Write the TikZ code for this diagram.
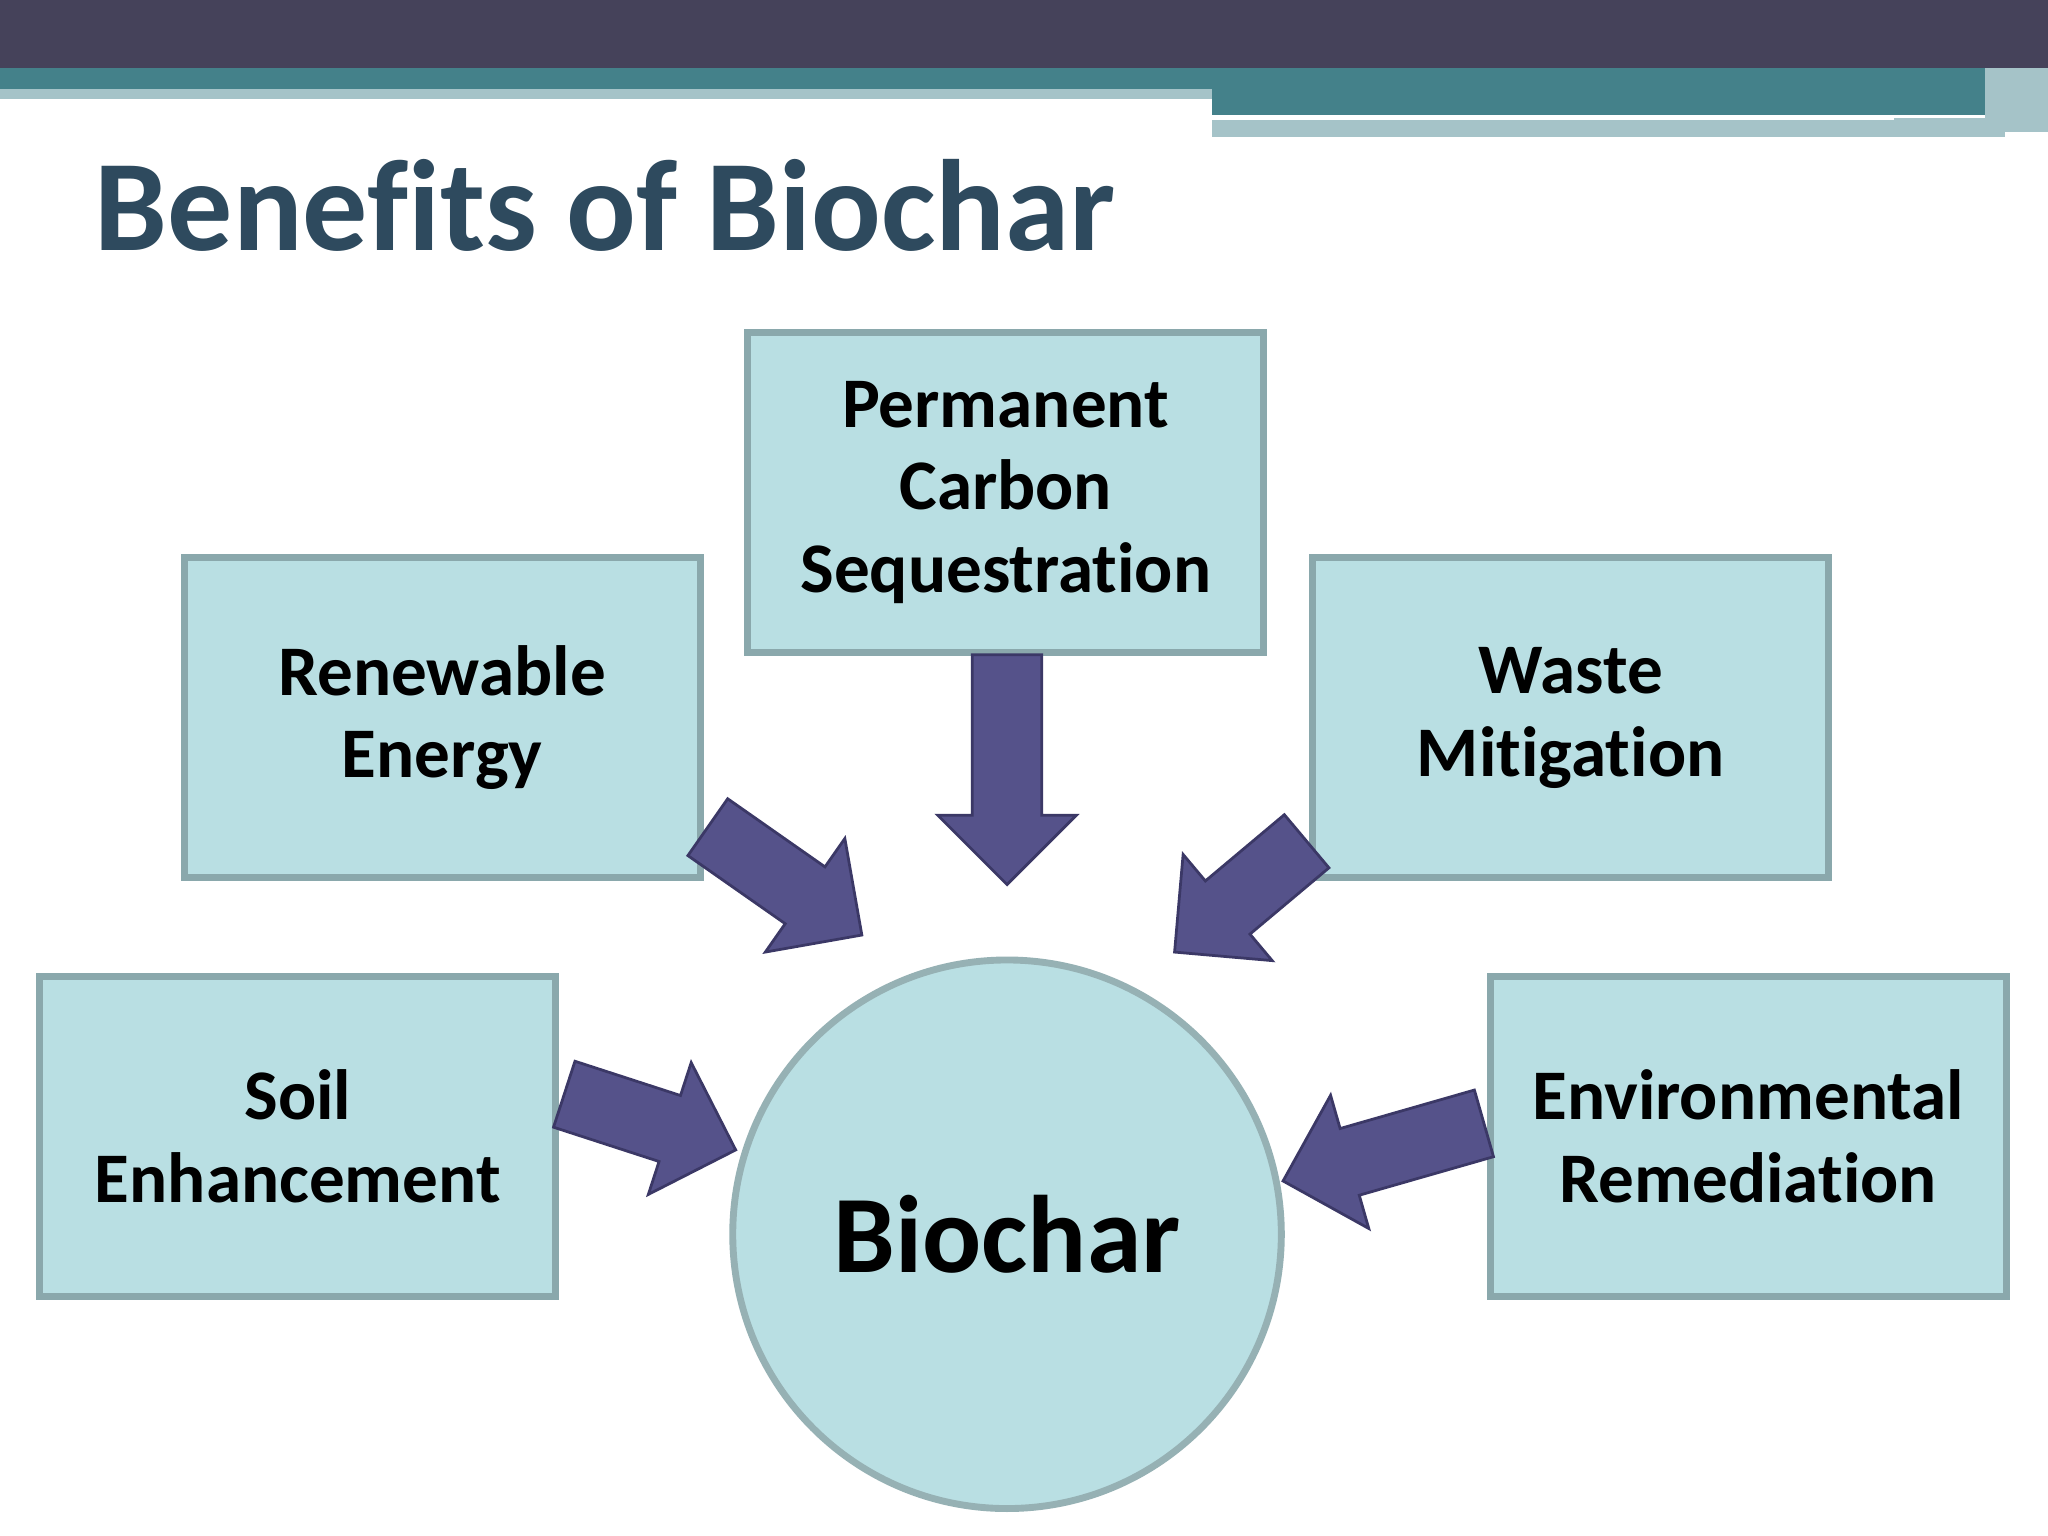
\documentclass[tikz,border=0pt]{standalone}
\usepackage{fontspec}
\setmainfont{Carlito}[Ligatures=NoCommon]
\usetikzlibrary{shapes.arrows}
\definecolor{barDark}{HTML}{45425A}
\definecolor{barTeal}{HTML}{44818A}
\definecolor{barLight}{HTML}{A5C3C8}
\definecolor{titleC}{HTML}{2E4A5E}
\definecolor{boxFill}{HTML}{B9DFE3}
\definecolor{boxLine}{HTML}{8AA8AC}
\definecolor{arrFill}{HTML}{55528A}
\definecolor{arrLine}{HTML}{3B3866}
\tikzset{
  benbox/.style={draw=boxLine,line width=1.5pt,fill=boxFill,minimum width=3.95cm,minimum height=2.45cm,align=center,font=\fontsize{15.5}{18}\selectfont\bfseries,inner sep=0pt},
  bigarrow/.style={single arrow,draw=arrLine,line width=0.6pt,fill=arrFill,inner sep=0pt,text width=0pt,text height=0.51cm,text depth=0pt,single arrow head extend=0.265cm,single arrow head indent=0pt},
}
\begin{document}
\begin{tikzpicture}
\useasboundingbox (0,0) rectangle (15.68,11.76);
\fill[white] (0,0) rectangle (15.68,11.76);
% top bars
\fill[barDark] (0,11.24) rectangle (15.68,11.76);
\fill[barTeal] (0,11.08) rectangle (15.68,11.24);
\fill[barLight] (0,11.00) rectangle (9.28,11.08);
\fill[barTeal] (9.28,10.88) rectangle (15.2,11.08);
\fill[barLight] (9.28,10.71) rectangle (15.35,10.86);
\fill[white] (9.28,10.84) rectangle (14.5,10.87);
\fill[barLight] (15.2,10.75) rectangle (15.68,11.24);
\node[anchor=base west,text=titleC,font=\fontsize{28.3}{34}\selectfont\bfseries,inner sep=0pt] (title) at (0.72,9.84) {Benefits of Biochar};
% boxes
\node[benbox] (perm) at (7.70,7.99) {Permanent\\Carbon\\Sequestration};
\node[benbox] (renew) at (3.385,6.265) {Renewable\\Energy};
\node[benbox] (waste) at (12.025,6.265) {Waste\\Mitigation};
\node[benbox] (soil) at (2.28,3.06) {Soil\\Enhancement};
\node[benbox] (env) at (13.385,3.06) {Environmental\\Remediation};
\node[circle,draw=boxLine!90,line width=1.5pt,fill=boxFill,minimum size=4.2cm,font=\fontsize{24}{28}\selectfont\bfseries,inner sep=0pt] (bio) at (7.71,2.31) {Biochar};
% arrows
\node[bigarrow,minimum height=1.76cm,rotate=-90] (a1) at (7.71,6.0) {};
\node[bigarrow,minimum height=1.44cm,rotate=-35] (a2) at (5.90,5.09) {};
\node[bigarrow,minimum height=1.32cm,rotate=220] (a3) at (9.60,4.98) {};
\node[bigarrow,minimum height=1.38cm,rotate=-18] (a4) at (4.85,3.21) {};
\node[bigarrow,minimum height=1.60cm,rotate=196] (a5) at (10.72,2.975) {};
\end{tikzpicture}
\end{document}
